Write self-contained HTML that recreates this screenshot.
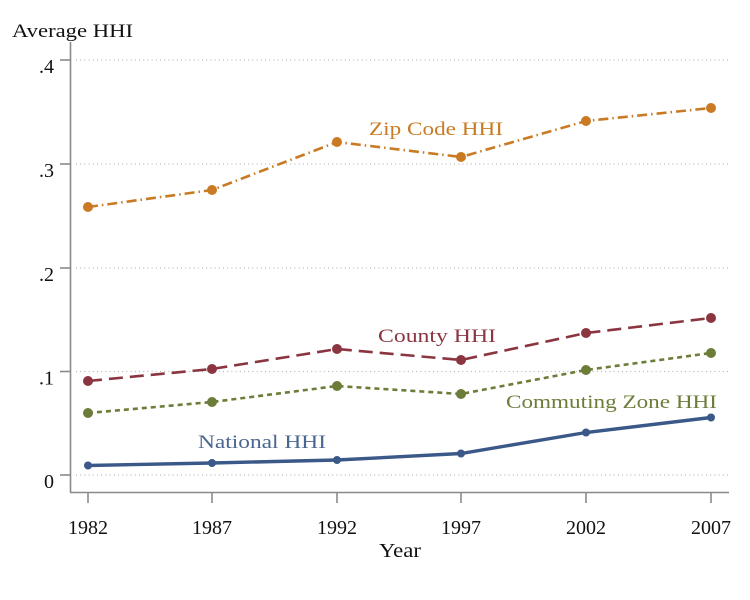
<!DOCTYPE html>
<html><head><meta charset="utf-8"><style>
html,body{margin:0;padding:0;background:#fff;}
svg{display:block;}
text{font-family:"Liberation Serif",serif;}
</style></head><body>
<svg width="750" height="600" viewBox="0 0 750 600" xmlns="http://www.w3.org/2000/svg">
<rect width="750" height="600" fill="#fff"/>
<!-- gridlines -->
<g stroke="#b8b8b8" stroke-width="1.2" stroke-dasharray="1 3.2" fill="none">
<line x1="76" y1="60" x2="731" y2="60"/>
<line x1="76" y1="164" x2="731" y2="164"/>
<line x1="76" y1="268" x2="731" y2="268"/>
<line x1="76" y1="371.5" x2="731" y2="371.5"/>
<line x1="76" y1="475" x2="731" y2="475"/>
</g>
<!-- axes -->
<g stroke="#8a8a8a" stroke-width="1.6" fill="none">
<line x1="70.5" y1="42" x2="70.5" y2="492.5"/>
<line x1="70" y1="492.5" x2="729" y2="492.5"/>
<line x1="60" y1="60" x2="70" y2="60"/>
<line x1="60" y1="164" x2="70" y2="164"/>
<line x1="60" y1="268" x2="70" y2="268"/>
<line x1="60" y1="371.5" x2="70" y2="371.5"/>
<line x1="60" y1="475" x2="70" y2="475"/>
<line x1="88" y1="492" x2="88" y2="503"/>
<line x1="212" y1="492" x2="212" y2="503"/>
<line x1="337" y1="492" x2="337" y2="503"/>
<line x1="461" y1="492" x2="461" y2="503"/>
<line x1="586" y1="492" x2="586" y2="503"/>
<line x1="711" y1="492" x2="711" y2="503"/>
</g>
<!-- y tick labels -->
<g font-size="20" fill="#111" text-anchor="end">
<text x="54" y="73">.4</text>
<text x="54" y="177">.3</text>
<text x="54" y="281">.2</text>
<text x="54" y="384.5">.1</text>
<text x="54" y="488">0</text>
</g>
<!-- x tick labels -->
<g font-size="20" fill="#111" text-anchor="middle">
<text x="88" y="534">1982</text>
<text x="212" y="534">1987</text>
<text x="337" y="534">1992</text>
<text x="461" y="534">1997</text>
<text x="586" y="534">2002</text>
<text x="711" y="534">2007</text>
<text x="400" y="557" textLength="42" lengthAdjust="spacingAndGlyphs">Year</text>
</g>
<text x="12" y="37" font-size="19" fill="#111" textLength="121" lengthAdjust="spacingAndGlyphs">Average HHI</text>

<!-- Zip Code -->
<polyline points="88,207 212,190 337,142 461,157 586,121 711,108" fill="none" stroke="#c97a22" stroke-width="2.6" stroke-dasharray="10 4 1.5 4"/>
<g fill="#c97a22">
<circle cx="88" cy="207" r="5"/><circle cx="212" cy="190" r="5"/><circle cx="337" cy="142" r="5"/>
<circle cx="461" cy="157" r="5"/><circle cx="586" cy="121" r="5"/><circle cx="711" cy="108" r="5"/>
</g>
<text x="369" y="135" font-size="19" fill="#c97a22" textLength="134" lengthAdjust="spacingAndGlyphs">Zip Code HHI</text>

<!-- County -->
<polyline points="88,381 212,369 337,349 461,360 586,333 711,318" fill="none" stroke="#8a3540" stroke-width="2.6" stroke-dasharray="14 7"/>
<g fill="#8a3540">
<circle cx="88" cy="381" r="5"/><circle cx="212" cy="369" r="5"/><circle cx="337" cy="349" r="5"/>
<circle cx="461" cy="360" r="5"/><circle cx="586" cy="333" r="5"/><circle cx="711" cy="318" r="5"/>
</g>
<text x="378" y="342" font-size="19" fill="#8a3540" textLength="118" lengthAdjust="spacingAndGlyphs">County HHI</text>

<!-- Commuting Zone -->
<polyline points="88,413 212,402 337,386 461,394 586,370 711,353" fill="none" stroke="#6b7d38" stroke-width="2.6" stroke-dasharray="5 4"/>
<g fill="#6b7d38">
<circle cx="88" cy="413" r="5"/><circle cx="212" cy="402" r="5"/><circle cx="337" cy="386" r="5"/>
<circle cx="461" cy="394" r="5"/><circle cx="586" cy="370" r="5"/><circle cx="711" cy="353" r="5"/>
</g>
<text x="506" y="408" font-size="19" fill="#6b7d38" textLength="211" lengthAdjust="spacingAndGlyphs">Commuting Zone HHI</text>

<!-- National -->
<polyline points="88,465.5 212,463 337,460 461,453.5 586,432.5 711,417.5" fill="none" stroke="#3a5888" stroke-width="3.4"/>
<g fill="#3a5888">
<circle cx="88" cy="465.5" r="4"/><circle cx="212" cy="463" r="4"/><circle cx="337" cy="460" r="4"/>
<circle cx="461" cy="453.5" r="4"/><circle cx="586" cy="432.5" r="4"/><circle cx="711" cy="417.5" r="4"/>
</g>
<text x="198" y="448" font-size="19" fill="#4a6690" textLength="128" lengthAdjust="spacingAndGlyphs">National HHI</text>
</svg>
</body></html>
